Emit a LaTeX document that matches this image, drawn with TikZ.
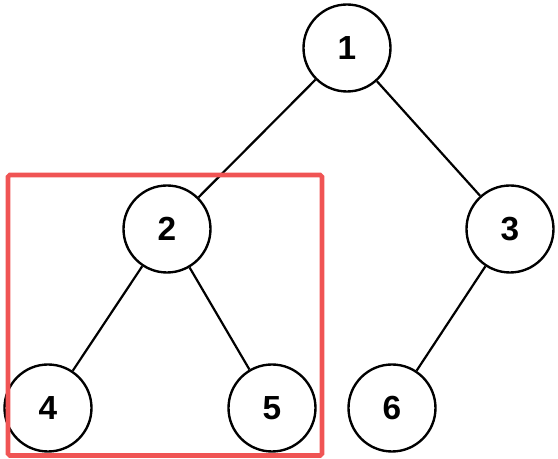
\documentclass[tikz,border=0pt]{standalone}
\usepackage{fontspec}
\setmainfont{Liberation Sans}
\usepackage{xcolor}
\usetikzlibrary{positioning}
\definecolor{boxred}{RGB}{240,84,84}

\begin{document}
\begin{tikzpicture}[
  every node/.style={font=\fontsize{19}{22}\selectfont\bfseries},
  vertex/.style={circle, draw, line width=1.35pt, minimum size=1.74cm, inner sep=0pt},
  edge/.style={line width=1.25pt},
  subtree/.style={draw=boxred, line width=2.6pt, rounded corners=1pt},
]
\useasboundingbox (0,0) rectangle (11.16,9.18);
\node[vertex] (n1) at (6.94, 8.22) {1};
\node[vertex] (n2) at (3.34, 4.60) {2};
\node[vertex] (n3) at (10.20, 4.60) {3};
\node[vertex] (n4) at (0.96, 1.02) {4};
\node[vertex] (n5) at (5.44, 1.02) {5};
\node[vertex] (n6) at (7.84, 1.02) {6};
\draw[edge] (n1) -- (n2);
\draw[edge] (n1) -- (n3);
\draw[edge] (n2) -- (n4);
\draw[edge] (n2) -- (n5);
\draw[edge] (n3) -- (n6);
% red box round the left subtree
\draw[subtree] (0.16, 0.07) rectangle (6.44, 5.68);
\end{tikzpicture}
\end{document}
